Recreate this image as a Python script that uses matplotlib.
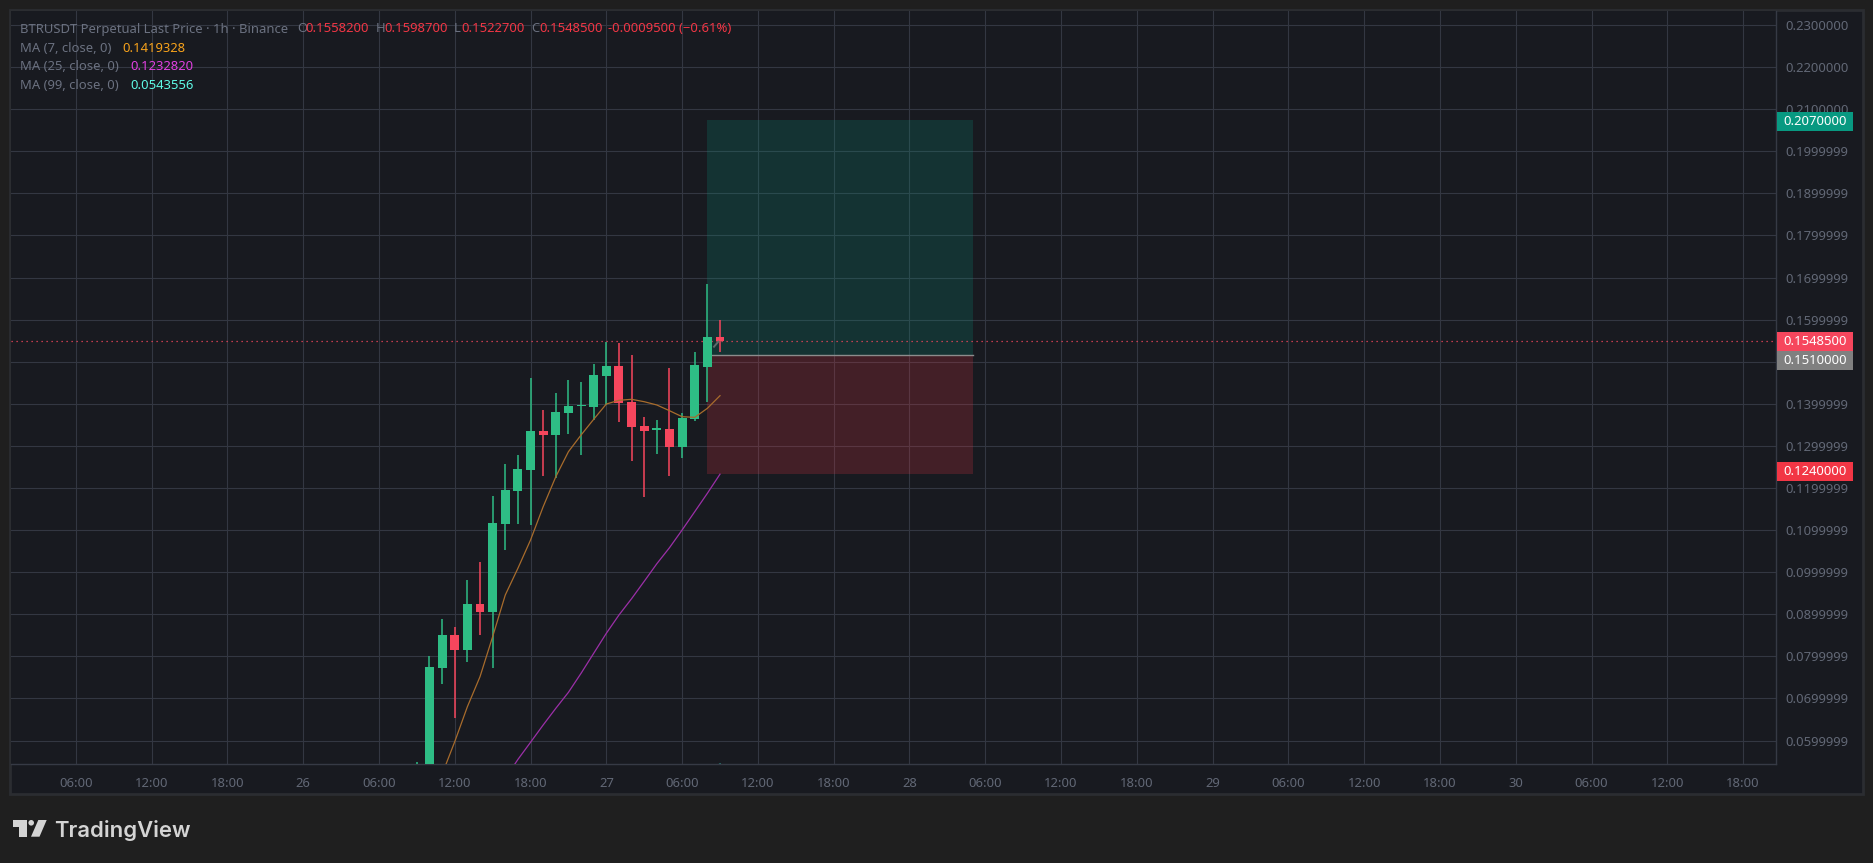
"""
BTRUSDT 1h chart (TradingView dark layout)
"""

import matplotlib
matplotlib.use("Agg")
import matplotlib.pyplot as plt
from matplotlib.patches import Circle, Polygon, Rectangle

W, H = 1874, 863

# x is hours since the 25th 00:00
candle_hours = [33, 34, 35, 36, 37, 38, 39, 40, 41, 42, 43, 44, 45,
                46, 47, 48, 49, 50, 51, 52, 53, 54, 55, 56, 57]
opens = [0.0500, 0.0510, 0.0773, 0.08507, 0.08158, 0.09244, 0.09061, 0.11151, 0.11936,
         0.12427, 0.13354, 0.13259, 0.13782, 0.13940, 0.13924, 0.14661, 0.14898, 0.14043,
         0.13473, 0.13385, 0.13400, 0.12974, 0.13639, 0.14874, 0.15582]
highs = [0.0549, 0.0800, 0.08887, 0.08697, 0.09814, 0.10241, 0.1181, 0.1257, 0.12784,
         0.14613, 0.13853, 0.14257, 0.14566, 0.14518, 0.14946, 0.15468, 0.15445, 0.1516,
         0.13686, 0.13615, 0.14851, 0.13782, 0.15231, 0.16846, 0.15987]
lows = [0.0480, 0.0490, 0.0735, 0.06535, 0.07873, 0.08514, 0.0773, 0.10527, 0.11151,
        0.1112, 0.12285, 0.1223, 0.13283, 0.12784, 0.13615, 0.13972, 0.13568, 0.12641,
        0.11786, 0.12807, 0.12285, 0.12712, 0.13591, 0.14043, 0.15227]
closes = [0.0520, 0.07747, 0.08507, 0.08158, 0.09244, 0.09061, 0.11168, 0.11952, 0.12451,
          0.13354, 0.13259, 0.13805, 0.13948, 0.13950, 0.14684, 0.14898, 0.14019, 0.13449,
          0.13354, 0.13400, 0.12974, 0.13663, 0.14922, 0.15587, 0.15485]

ma7_hours = [35, 36, 37, 38, 39, 40, 41, 42, 43, 44, 45, 46,
             47, 48, 49, 50, 51, 52, 53, 54, 55, 56, 57]
ma7 = [0.0520, 0.05972, 0.06803, 0.07516, 0.08467, 0.09457, 0.10092, 0.10764, 0.11555,
       0.12268, 0.12862, 0.13259, 0.13632, 0.13995, 0.14083, 0.14107, 0.1405, 0.13972,
       0.13836, 0.13694, 0.13678, 0.13893, 0.1419328]

ma25_hours = [40, 41, 42, 43, 44, 45, 46, 47, 48, 49, 50, 51, 52, 53, 54, 55, 56, 57]
ma25 = [0.0510, 0.0555, 0.05958, 0.06369, 0.06765, 0.07145, 0.07597, 0.08072, 0.08547,
        0.08982, 0.0937, 0.09783, 0.10201, 0.10581, 0.11002, 0.11437, 0.11874, 0.123282]

ma99_hours = [56, 57]
ma99 = [0.0530, 0.0543556]

position_hours = [56, 77]
target_price, entry_price, stop_price = 0.2074, 0.1515, 0.1233
last_price = 0.15485

time_ticks = [6, 12, 18, 24, 30, 36, 42, 48, 54, 60, 66, 72, 78, 84, 90, 96, 102, 108,
              114, 120, 126, 132, 138]
time_labels = ["06:00", "12:00", "18:00", "26", "06:00", "12:00", "18:00", "27", "06:00",
               "12:00", "18:00", "28", "06:00", "12:00", "18:00", "29", "06:00", "12:00",
               "18:00", "30", "06:00", "12:00", "18:00"]
price_ticks = [0.06, 0.07, 0.08, 0.09, 0.10, 0.11, 0.12, 0.13, 0.14, 0.15, 0.16, 0.17,
               0.18, 0.19, 0.20, 0.21, 0.22, 0.23]
price_labels = ["0.0599999", "0.0699999", "0.0799999", "0.0899999", "0.0999999",
                "0.1099999", "0.1199999", "0.1299999", "0.1399999", "", "0.1599999",
                "0.1699999", "0.1799999", "0.1899999", "0.1999999", "0.2100000",
                "0.2200000", "0.2300000"]

BG = "#1f1f1f"
PANEL = "#181a20"
BORDER = "#2b2d31"
GRID = "#333742"
AXIS_LINE = "#363a45"
MUTED = "#626876"
GREEN = "#2ebd85"
RED = "#f6465d"
FONT = "Noto Sans"

plt.rcParams["font.family"] = FONT


def box(x0, y0, x1, y1):
    """Pixel box (top-left origin) to figure fractions."""
    return [x0 / W, 1 - y1 / H, (x1 - x0) / W, (y1 - y0) / H]


fig = plt.figure(figsize=(W / 100, H / 100), dpi=100, facecolor=BG)

# outer panel, holds the two axis strips
back = fig.add_axes([0, 0, 1, 1], zorder=0)
back.set_xlim(0, W)
back.set_ylim(H, 0)
back.axis("off")
back.add_patch(Rectangle((10, 10), 1853, 784, facecolor=PANEL, edgecolor=BORDER, linewidth=2))

ax = fig.add_axes(box(11, 11, 1776, 764), zorder=1, facecolor=PANEL)
ax.set_xlim(0.87, 140.6)
ax.set_ylim(0.05442, 0.23333)
ax.yaxis.tick_right()
ax.set_xticks(time_ticks, time_labels)
ax.set_yticks(price_ticks, price_labels)
ax.tick_params(axis="x", length=0, pad=9, labelsize=9.4, labelcolor=MUTED)
ax.tick_params(axis="y", length=0, pad=6.5, labelsize=9.4, labelcolor=MUTED)
ax.grid(True, color=GRID, linewidth=0.8, zorder=0)
ax.set_axisbelow(True)
for side in ["top", "left"]:
    ax.spines[side].set_visible(False)
for side in ["bottom", "right"]:
    ax.spines[side].set_color(AXIS_LINE)
    ax.spines[side].set_linewidth(1.0)

# long position tool
ax.fill_between(position_hours, entry_price, target_price, color="#089981", alpha=0.2,
                linewidth=0, zorder=1)
ax.fill_between(position_hours, stop_price, entry_price, color="#f23645", alpha=0.2,
                linewidth=0, zorder=1)
ax.plot(position_hours, [entry_price, entry_price], color="#8c8c8c", linewidth=1.0, zorder=2)

ax.axhline(last_price, color=RED, linewidth=0.9, linestyle=(0, (1, 3)), zorder=2)

# moving averages
ax.plot(ma7_hours, ma7, color="#a86c2c", linewidth=0.9, zorder=5)
ax.plot(ma25_hours, ma25, color="#9c2fa8", linewidth=0.9, zorder=3)
ax.plot(ma99_hours, ma99, color="#2fa8a0", linewidth=1.2, zorder=3)

# candles
for h, o, hi, lo, c in zip(candle_hours, opens, highs, lows, closes):
    color = GREEN if c >= o else RED
    ax.vlines(h, lo, hi, color=color, linewidth=1.1, zorder=4)
    ax.bar(h, max(abs(c - o), 0.0004), bottom=min(o, c), width=0.71, color=color,
           linewidth=0, zorder=4)

# texts and labels above the chart
top = fig.add_axes([0, 0, 1, 1], zorder=2)
top.set_xlim(0, W)
top.set_ylim(H, 0)
top.axis("off")
top.patch.set_alpha(0)

HEAD = "#6b7180"
HEAD_RED = "#f23645"
header_parts = [
    (20, 29, "BTRUSDT Perpetual Last Price · 1h · Binance", HEAD),
    (297, 29, "O", HEAD), (305, 29, "0.1558200", HEAD_RED),
    (376, 29, "H", HEAD), (384, 29, "0.1598700", HEAD_RED),
    (454, 29, "L", HEAD), (461, 29, "0.1522700", HEAD_RED),
    (531, 29, "C", HEAD), (539, 29, "0.1548500", HEAD_RED),
    (608, 29, "-0.0009500 (−0.61%)", HEAD_RED),
    (20, 48, "MA (7, close, 0)", HEAD), (122.5, 48, "0.1419328", "#f7a21b"),
    (20, 67, "MA (25, close, 0)", HEAD), (130, 67, "0.1232820", "#e040e0"),
    (20, 85.5, "MA (99, close, 0)", HEAD), (130, 85.5, "0.0543556", "#5ffae6"),
]
for x, y, s, color in header_parts:
    top.text(x, y, s, color=color, fontsize=9.4, va="center", ha="left")

# price tags on the axis
tag_rows = [
    (121.7, "0.2070000", "#089981"),
    (341.7, "0.1548500", "#f6465d"),
    (360.7, "0.1510000", "#808080"),
    (471.7, "0.1240000", "#f23645"),
]
for y, s, color in tag_rows:
    top.add_patch(Rectangle((1777, y - 9.5), 76, 19, facecolor=color, linewidth=0))
    top.text(1815, y, s, color="white", fontsize=9.4, va="center", ha="center")

# small drag handle of the position tool
top.plot([714, 718.3], [346.7, 341.7], color="#5f6a6a", linewidth=1.4)

# logo
LOGO = "#d4d4d4"
top.add_patch(Polygon([(13.3, 820), (27.3, 820), (27.3, 836.7), (19, 836.7), (19, 826.7),
                       (13.3, 826.7)], facecolor=LOGO, linewidth=0))
top.add_patch(Circle((31.2, 822.8), 2.8, facecolor=LOGO, linewidth=0))
top.add_patch(Polygon([(38.3, 820), (46.7, 820), (39.5, 836.7), (31, 836.7)],
                      facecolor=LOGO, linewidth=0))
top.text(54.5, 836.7, "TradingView", color=LOGO, fontsize=15.9, fontfamily="Inter",
         fontweight="semibold", va="baseline", ha="left")

plt.savefig("out.png", dpi=100, facecolor=BG)
